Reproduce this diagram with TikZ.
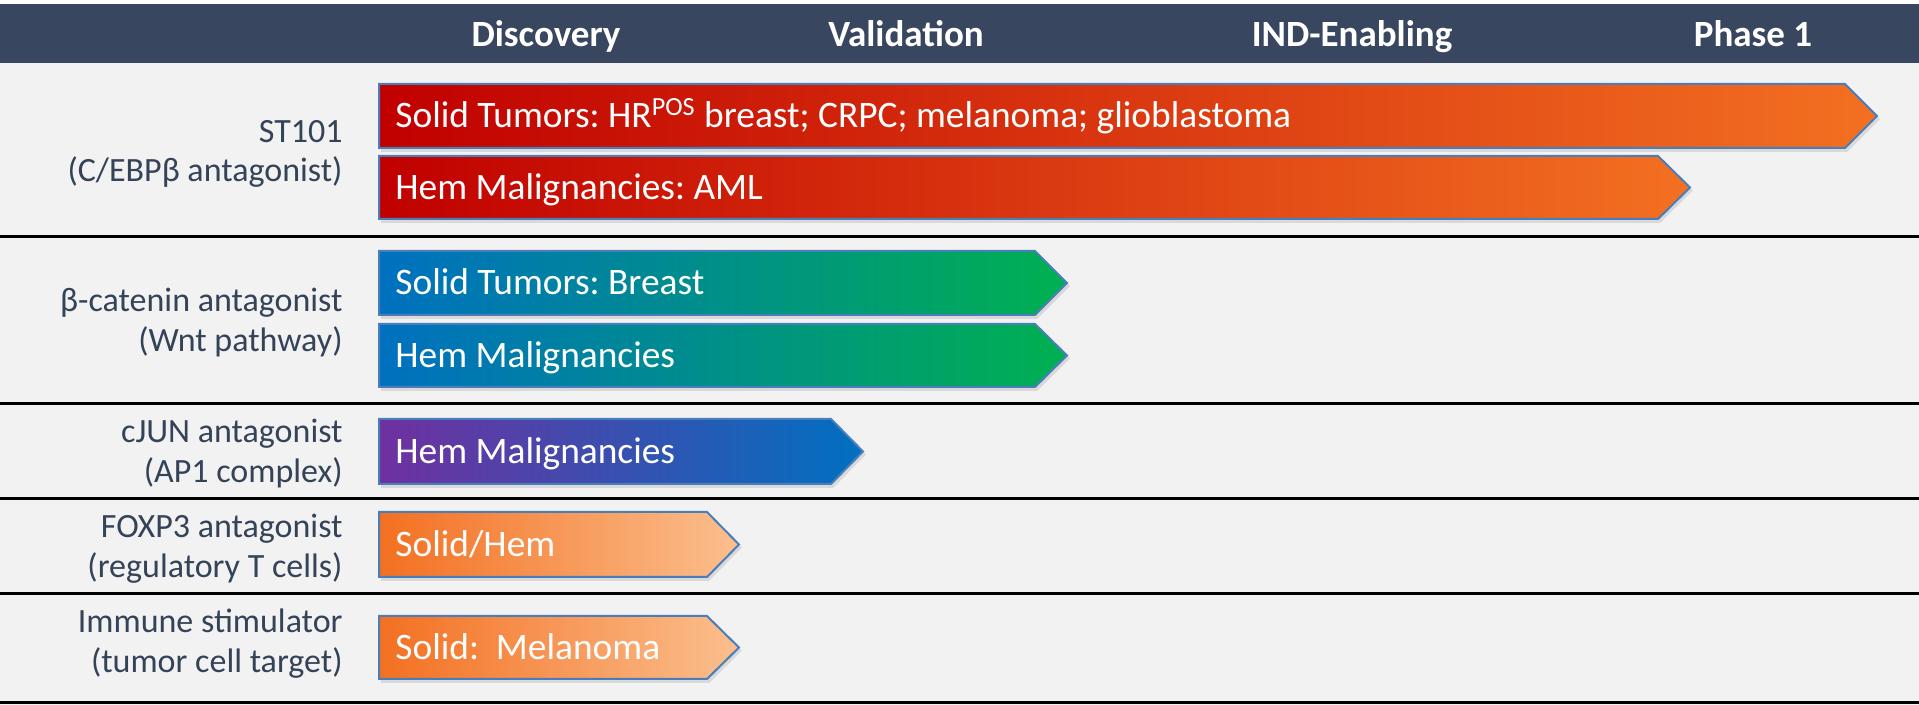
\documentclass[tikz,border=0pt]{standalone}
\usepackage{fontspec}
\setmainfont{Carlito}
\frenchspacing
\definecolor{headslate}{HTML}{38475F}
\definecolor{rowgray}{HTML}{F2F2F2}
\definecolor{labelslate}{HTML}{344358}
\definecolor{edgeblue}{HTML}{4A7EBB}
\definecolor{darkred}{HTML}{C00000}
\definecolor{brightorange}{HTML}{F37021}
\definecolor{paleorange}{HTML}{FBBF8E}
\definecolor{deepblue}{HTML}{0070C0}
\definecolor{leafgreen}{HTML}{00B050}
\definecolor{plum}{HTML}{7030A0}
\tikzset{
  barline/.style={draw=edgeblue, line width=1pt, line join=miter},
  bartext/.style={anchor=base west, text=white, font=\fontsize{18.7pt}{21pt}\selectfont, inner sep=0pt},
  rowlabel/.style={anchor=base east, text=labelslate, font=\fontsize{17pt}{19pt}\selectfont, inner sep=0pt},
  phasehead/.style={anchor=base, text=white, font=\bfseries\fontsize{18.5pt}{20pt}\selectfont, inner sep=0pt},
  rowrule/.style={draw=black, line width=1.5pt}
}
\newcommand{\pipebar}[7]{\fill[black, opacity=0.10] (381,#2+3) -- (#4+2,#2+3) -- (#4+35,{(#2+#3)/2+3}) -- (#4+2,#3+4) -- (381,#3+4) -- cycle;
					\draw[barline, left color=#5, right color=#6] (379,#2) -- (#4,#2) -- (#4+32,{(#2+#3)/2}) -- (#4,#3) -- (379,#3) -- cycle;
					\node[bartext] (#1) at (395,{(#2+#3)/2+12}) {#7};}

\begin{document}
\begin{tikzpicture}[x=0.5pt, y=-0.5pt]
				
				\useasboundingbox (0,0) rectangle (1919,705);
				\fill[white] (0,0) rectangle (1919,705);
				\fill[rowgray] (0,63) rectangle (1919,705);
				\fill[headslate] (0,4) rectangle (1919,63);
				
				% phases
				\node[phasehead] (discovery) at (546,47) {Discovery};
				\node[phasehead] (validation) at (906,47) {Validation};
				\node[phasehead] (indenabling) at (1352,47) {IND-Enabling};
				\node[phasehead] (phaseone) at (1753,47) {Phase 1};
				
				% row rules
				\foreach \ry in {237,404,499,594,703}
					\draw[rowrule] (0,\ry) -- (1919,\ry);
				
				% programs
				\node[rowlabel] (stname) at (343,143) {ST101};
				\node[rowlabel] (stnote) at (343,182) {(C/EBPβ antagonist)};
				\node[rowlabel] (bcname) at (343,312) {β-catenin antagonist};
				\node[rowlabel] (bcnote) at (343,352) {(Wnt pathway)};
				\node[rowlabel] (cjname) at (343,443) {cJUN antagonist};
				\node[rowlabel] (cjnote) at (343,483) {(AP1 complex)};
				\node[rowlabel] (fxname) at (343,538) {FOXP3 antagonist};
				\node[rowlabel] (fxnote) at (343,578) {(regulatory T cells)};
				\node[rowlabel] (imname) at (343,633) {Immune stimulator};
				\node[rowlabel] (imnote) at (343,673) {(tumor cell target)};
				
				% bars
				\pipebar{stsolid}{84}{148}{1845}{darkred}{brightorange}{Solid Tumors: HR\textsuperscript{POS} breast; CRPC; melanoma; glioblastoma}
				\pipebar{sthem}{156}{219}{1658}{darkred}{brightorange}{Hem Malignancies: AML}
				\pipebar{bcsolid}{251}{315}{1035}{deepblue}{leafgreen}{Solid Tumors: Breast}
				\pipebar{bchem}{324}{387}{1035}{deepblue}{leafgreen}{Hem Malignancies}
				\pipebar{cjhem}{419}{484}{831}{plum}{deepblue}{Hem Malignancies}
				\pipebar{fxboth}{512}{577}{707}{brightorange}{paleorange}{Solid/Hem}
				\pipebar{immel}{616}{679}{707}{brightorange}{paleorange}{Solid:\ \ Melanoma}
								
				\end{tikzpicture}
\end{document}
